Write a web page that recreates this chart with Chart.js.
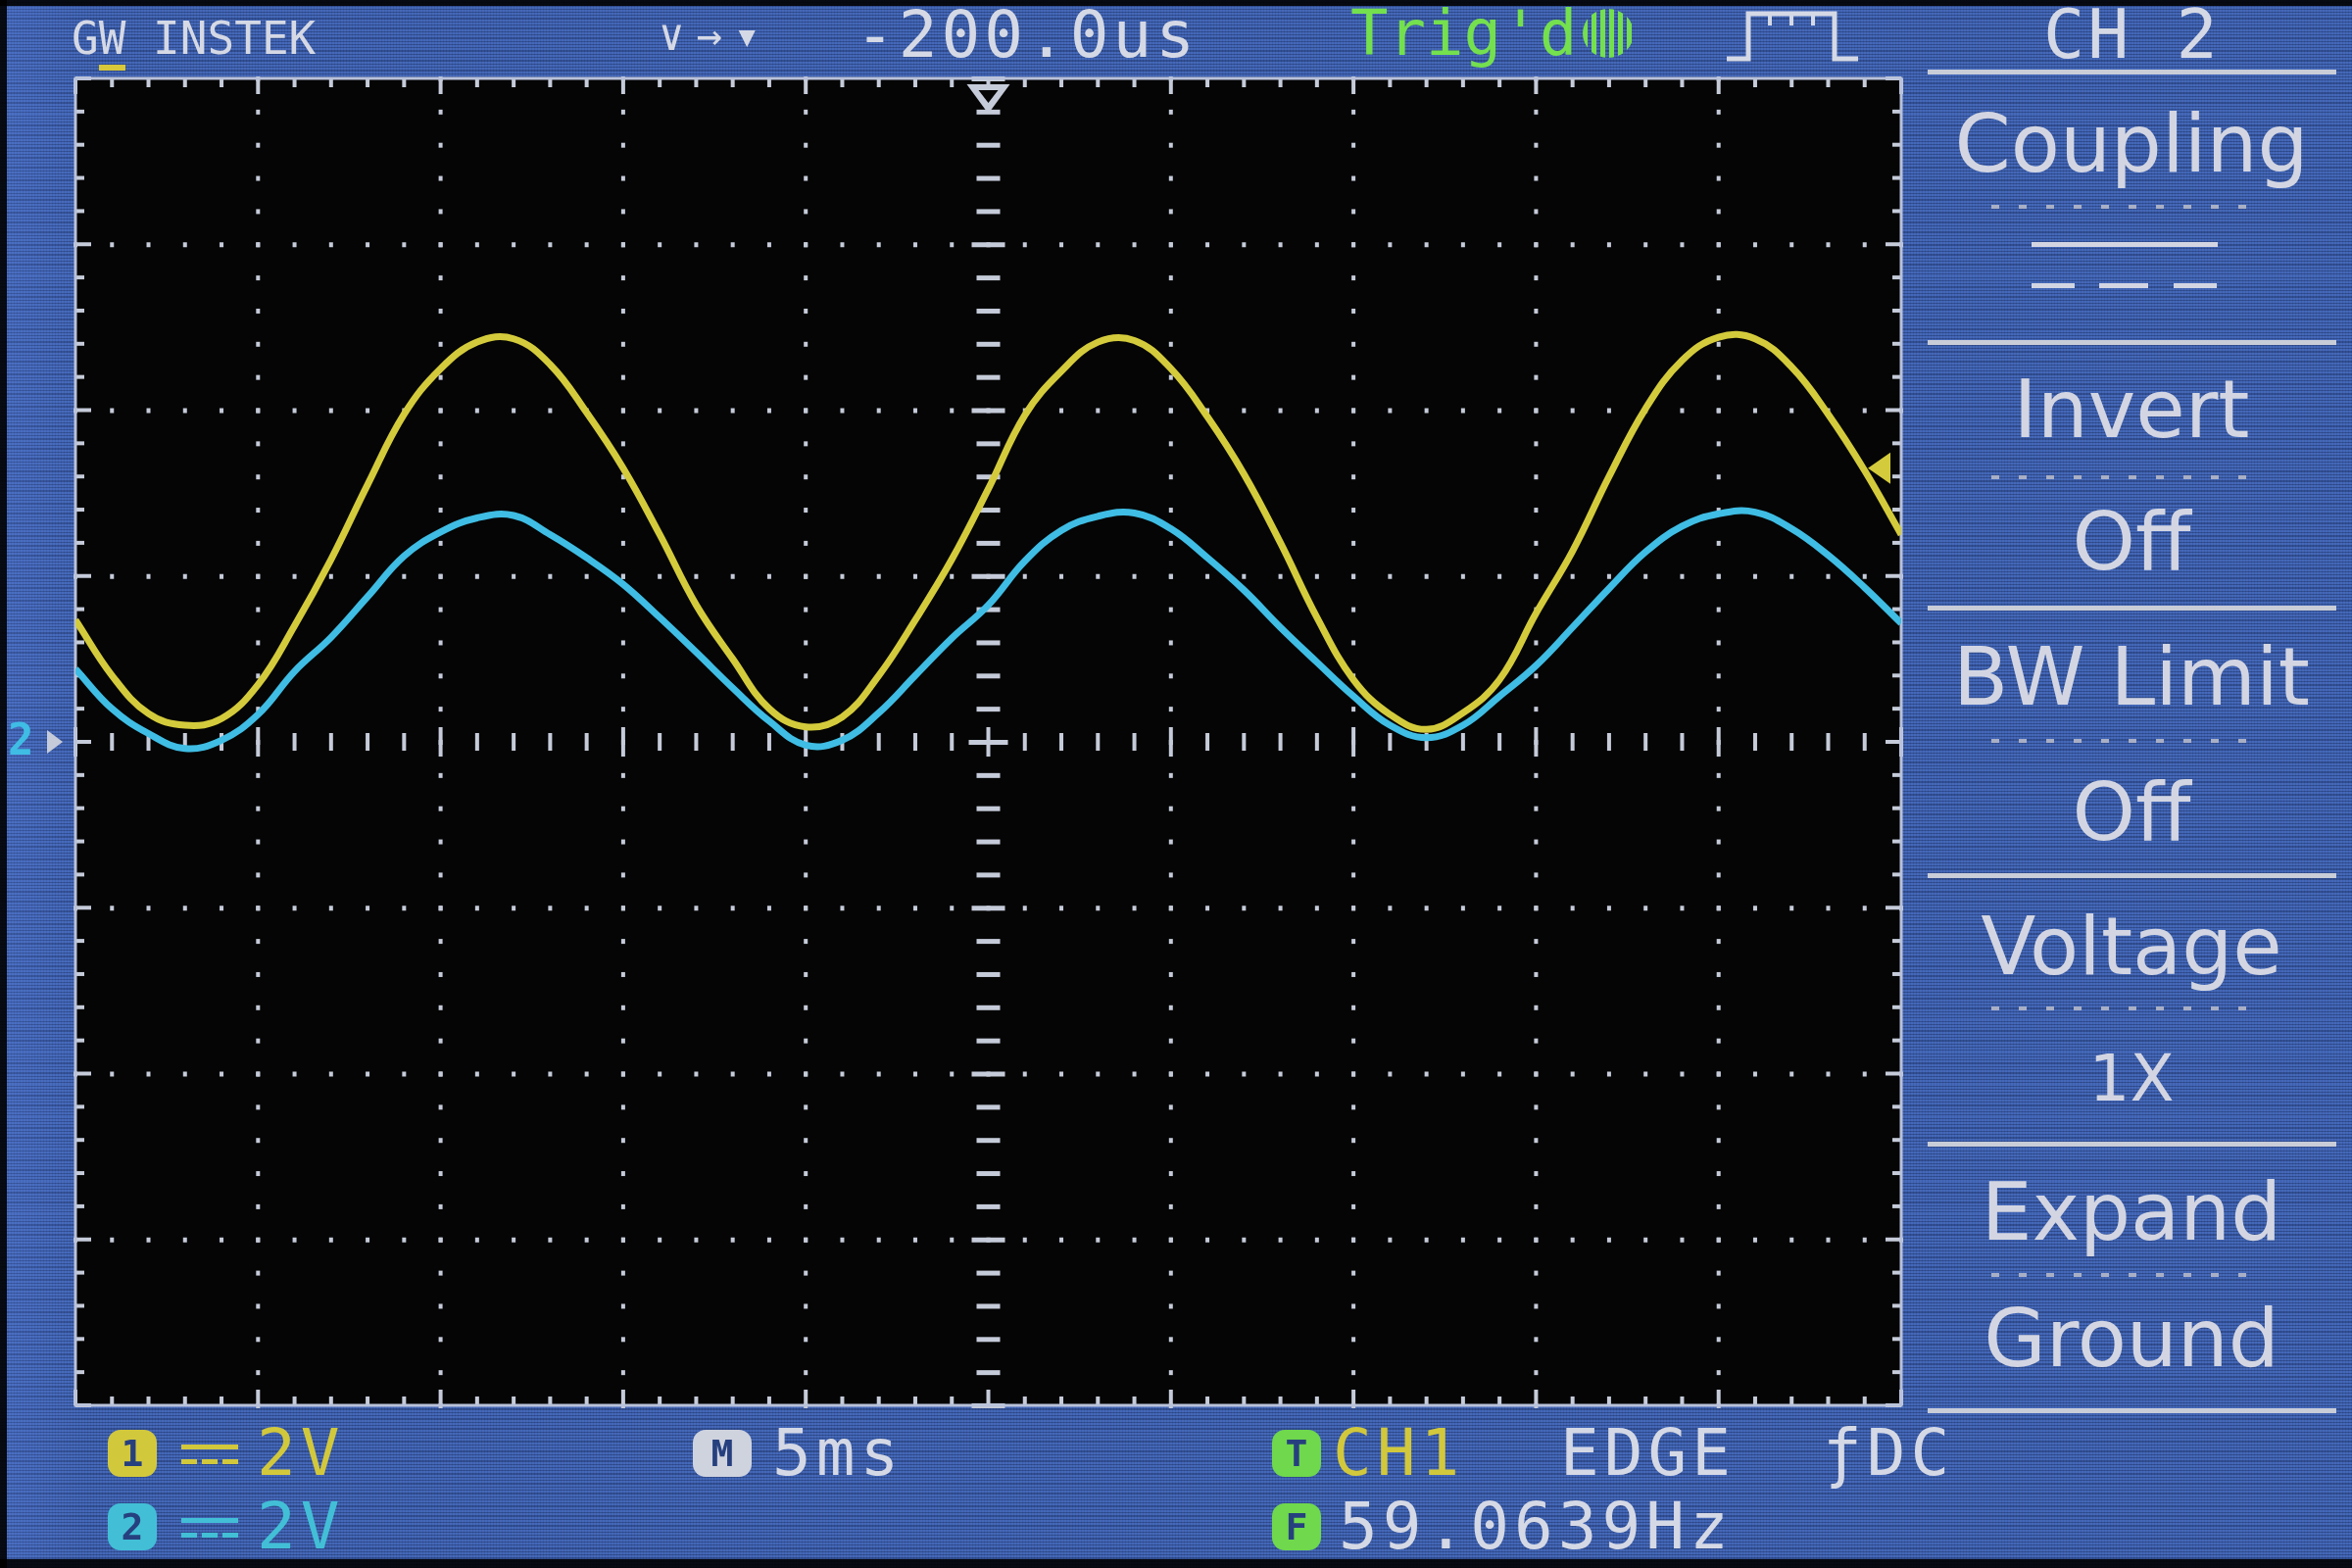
<!DOCTYPE html>
<html>
<head>
<meta charset="utf-8">
<title>GW Instek scope capture</title>
<script src="https://cdn.jsdelivr.net/npm/chart.js@4.4.1/dist/chart.umd.min.js"></script>
<style>
  html, body { margin: 0; padding: 0; background: #0a0a0a; }
  #screen {
    position: absolute; left: 0; top: 0; width: 2400px; height: 1600px; overflow: hidden;
    background:
      linear-gradient(to right, rgba(0,0,0,0.9) 0 7px, rgba(0,0,0,0) 7px),
      linear-gradient(to bottom, rgba(0,0,0,0.9) 0 6px, rgba(0,0,0,0) 6px calc(100% - 9px), rgba(0,0,0,0.9) calc(100% - 9px)),
      linear-gradient(to right, rgba(110,150,255,0.16) 0, rgba(0,0,0,0) 90px),
      repeating-linear-gradient(to right, rgba(255,255,255,0.05) 0 2px, rgba(0,0,0,0) 2px 3px),
      repeating-linear-gradient(to bottom, #3c60b2 0 2px, #294689 2px 3.3px);
  }
  #scope { position: absolute; left: 0; top: 0; }
  .t { position: absolute; white-space: pre; font-family: "DejaVu Sans Mono", monospace; line-height: 1; color: #d5d9e5; }
  .m { position: absolute; left: 1965px; width: 420px; text-align: center; white-space: pre;
       font-family: "DejaVu Sans", sans-serif; font-size: 82px; line-height: 1; color: #d3d6e2; }
  .sep { position: absolute; left: 1967px; width: 417px; height: 5px; background: #c9cdd8; }
  .dot { position: absolute; left: 2032px; width: 262px; height: 4px;
         background: repeating-linear-gradient(to right, #a9afc5 0 8px, rgba(0,0,0,0) 8px 28px); }
  .bar { position: absolute; height: 5px; }
  .ico { position: absolute; width: 50px; height: 48px; border-radius: 13px; text-align: center;
         font-family: "DejaVu Sans Mono", monospace; font-weight: bold; font-size: 38px; line-height: 48px; color: #26407f; }
</style>
</head>
<body>
<div id="screen">
  <canvas id="scope" width="2400" height="1600"></canvas>

  <!-- top status bar -->
  <div class="t" style="left:73px; top:16px; font-size:46px;">G<span style="border-bottom:6px solid #d8c83a;">W</span> INSTEK</div>
  <div class="t" style="left:672px; top:14px; font-size:44px; letter-spacing:12px;">∨→▾</div>
  <div class="t" style="left:873px; top:3px; font-size:66px; letter-spacing:4px;">-200.0us</div>
  <div class="t" style="left:1378px; top:2px; font-size:64px; color:#74e04e;">Trig'd</div>
  <div style="position:absolute; left:1615px; top:9px; width:52px; height:50px; border-radius:50%;
              background:repeating-linear-gradient(to right, #74e04e 0 5px, rgba(0,0,0,0) 5px 9px);"></div>
  <svg style="position:absolute; left:1760px; top:8px;" width="140" height="60">
    <polyline points="2,52 24,52 24,6 112,6 112,52 136,52" fill="none" stroke="#d5d9e5" stroke-width="5"/>
    <line x1="46" y1="6" x2="46" y2="18" stroke="#d5d9e5" stroke-width="4"/>
    <line x1="68" y1="6" x2="68" y2="18" stroke="#d5d9e5" stroke-width="4"/>
    <line x1="90" y1="6" x2="90" y2="18" stroke="#d5d9e5" stroke-width="4"/>
  </svg>
  <div class="t" style="left:2085px; top:0px; font-size:70px; letter-spacing:3px;">CH 2</div>

  <!-- right menu -->
  <div class="sep" style="top:71px;"></div>
  <div class="m" style="top:106px;">Coupling</div>
  <div class="dot" style="top:209px;"></div>
  <div class="bar" style="left:2073px; width:190px; top:247px; background:#d3d6e2;"></div>
  <div class="bar" style="left:2073px; width:44px; top:289px; background:#d3d6e2;"></div>
  <div class="bar" style="left:2142px; width:50px; top:289px; background:#d3d6e2;"></div>
  <div class="bar" style="left:2218px; width:44px; top:289px; background:#d3d6e2;"></div>
  <div class="sep" style="top:347px;"></div>
  <div class="m" style="top:377px;">Invert</div>
  <div class="dot" style="top:485px;"></div>
  <div class="m" style="top:512px;">Off</div>
  <div class="sep" style="top:618px;"></div>
  <div class="m" style="top:650px;">BW Limit</div>
  <div class="dot" style="top:754px;"></div>
  <div class="m" style="top:788px;">Off</div>
  <div class="sep" style="top:891px;"></div>
  <div class="m" style="top:925px;">Voltage</div>
  <div class="dot" style="top:1027px;"></div>
  <div class="m" style="top:1068px; font-size:66px;">1X</div>
  <div class="sep" style="top:1165px;"></div>
  <div class="m" style="top:1196px;">Expand</div>
  <div class="dot" style="top:1299px;"></div>
  <div class="m" style="top:1325px;">Ground</div>
  <div class="sep" style="top:1437px;"></div>

  <!-- bottom status -->
  <div class="ico" style="left:110px; top:1459px; background:#d2c83c;">1</div>
  <div class="bar" style="left:185px; width:58px; top:1474px; background:#d2c83c;"></div>
  <div class="bar" style="left:185px; width:16px; top:1489px; background:#d2c83c;"></div>
  <div class="bar" style="left:206px; width:16px; top:1489px; background:#d2c83c;"></div>
  <div class="bar" style="left:227px; width:16px; top:1489px; background:#d2c83c;"></div>
  <div class="t" style="left:262px; top:1450px; font-size:66px; letter-spacing:5px; color:#d2c83c;">2V</div>

  <div class="ico" style="left:110px; top:1534px; background:#42bfd6;">2</div>
  <div class="bar" style="left:185px; width:58px; top:1549px; background:#42bfd6;"></div>
  <div class="bar" style="left:185px; width:16px; top:1564px; background:#42bfd6;"></div>
  <div class="bar" style="left:206px; width:16px; top:1564px; background:#42bfd6;"></div>
  <div class="bar" style="left:227px; width:16px; top:1564px; background:#42bfd6;"></div>
  <div class="t" style="left:262px; top:1525px; font-size:66px; letter-spacing:5px; color:#42bfd6;">2V</div>

  <div class="ico" style="left:707px; top:1459px; width:60px; background:#cfd3de;">M</div>
  <div class="t" style="left:788px; top:1450px; font-size:66px; letter-spacing:5px;">5ms</div>

  <div class="ico" style="left:1298px; top:1459px; background:#6fd84c;">T</div>
  <div class="t" style="left:1360px; top:1450px; font-size:66px; letter-spacing:5px; color:#d2c83c;">CH1</div>
  <div class="t" style="left:1592px; top:1450px; font-size:66px; letter-spacing:5px;">EDGE</div>
  <div class="t" style="left:1860px; top:1450px; font-size:66px; letter-spacing:5px;">ƒDC</div>

  <div class="ico" style="left:1298px; top:1534px; background:#6fd84c;">F</div>
  <div class="t" style="left:1366px; top:1525px; font-size:66px; letter-spacing:5px;">59.0639Hz</div>
</div>

<script>
// time axis in ms (5 ms/div, 10 divisions), volts (2 V/div, 8 divisions)
const timeMs = [-25, -24, -23, -22, -21, -20, -19, -18, -17, -16, -15, -14, -13, -12, -11, -10,
  -9, -8, -7, -6, -5, -4, -3, -2, -1, 0, 1, 2, 3, 4, 5, 6, 7, 8, 9, 10,
  11, 12, 13, 14, 15, 16, 17, 18, 19, 20, 21, 22, 23, 24, 25];

const ch1Volts = [1.47, 0.80, 0.34, 0.20, 0.28, 0.69, 1.40, 2.20, 3.10, 3.95, 4.50,
  4.82, 4.86, 4.55, 3.97, 3.30, 2.50, 1.65, 1.00, 0.40, 0.18,
  0.30, 0.80, 1.47, 2.20, 3.05, 3.94, 4.47, 4.82, 4.84, 4.50,
  3.92, 3.23, 2.40, 1.50, 0.75, 0.33, 0.15, 0.35, 0.75, 1.55,
  2.30, 3.20, 4.02, 4.60, 4.88, 4.86, 4.52, 3.95, 3.27, 2.50];

const ch2Volts = [0.88, 0.40, 0.10, -0.08, 0.02, 0.33, 0.85, 1.26, 1.75, 2.24, 2.53,
  2.70, 2.73, 2.50, 2.22, 1.90, 1.50, 1.08, 0.65, 0.25, -0.04,
  0.02, 0.35, 0.80, 1.25, 1.65, 2.18, 2.55, 2.72, 2.76, 2.57,
  2.22, 1.83, 1.38, 0.96, 0.55, 0.20, 0.05, 0.20, 0.55, 0.92,
  1.38, 1.85, 2.29, 2.60, 2.75, 2.77, 2.57, 2.25, 1.86, 1.43];

const timeDivs = [-25, -20, -15, -10, -5, 0, 5, 10, 15, 20, 25];
const voltDivs = [-8, -6, -4, -2, 0, 2, 4, 6, 8];
const trigLevel = 3.3;

const CH1_COLOR = "#d4cb3c";
const CH2_COLOR = "#3fbde4";
const GRID_COLOR = "#c5cbd9";

const graticule = {
  id: "graticule",
  beforeDatasetsDraw(chart) {
    const { ctx, chartArea: a, scales: { x, y } } = chart;
    const subT = [];
    for (let t = timeDivs[0]; t <= timeDivs[timeDivs.length - 1]; t += 1) subT.push(t);
    const subV = [];
    for (let v = voltDivs[0]; v <= voltDivs[voltDivs.length - 1] + 0.001; v += 0.4) subV.push(v);
    const isMajorT = (t) => timeDivs.includes(t);
    const isMajorV = (v) => voltDivs.some((d) => Math.abs(d - v) < 0.01);

    ctx.save();
    ctx.fillStyle = "#050505";
    ctx.fillRect(a.left, a.top, a.right - a.left, a.bottom - a.top);
    ctx.fillStyle = GRID_COLOR;

    // dotted vertical division lines
    timeDivs.slice(1, -1).forEach((t) => {
      if (t === 0) return;
      const px = x.getPixelForValue(t);
      subV.forEach((v) => ctx.fillRect(px - 2, y.getPixelForValue(v) - 2, 4, 5));
    });
    // dotted horizontal division lines
    voltDivs.slice(1, -1).forEach((v) => {
      if (v === 0) return;
      const py = y.getPixelForValue(v);
      subT.forEach((t) => ctx.fillRect(x.getPixelForValue(t) - 2, py - 2, 4, 5));
    });

    // centre cross with sub-division ticks
    const cx = x.getPixelForValue(0);
    const cy = y.getPixelForValue(0);
    subV.forEach((v) => {
      const w = isMajorV(v) ? 34 : 24;
      ctx.fillRect(cx - w / 2, y.getPixelForValue(v) - 2, w, 5);
    });
    subT.forEach((t) => {
      const h = isMajorT(t) ? 30 : 18;
      ctx.fillRect(x.getPixelForValue(t) - 2, cy - h / 2, 4, h);
    });
    ctx.fillRect(cx - 20, cy - 2, 40, 5);

    // border ticks
    subT.forEach((t) => {
      const px = x.getPixelForValue(t);
      const h = isMajorT(t) ? 16 : 9;
      ctx.fillRect(px - 2, a.top, 4, h);
      ctx.fillRect(px - 2, a.bottom - h, 4, h);
    });
    subV.forEach((v) => {
      const py = y.getPixelForValue(v);
      const w = isMajorV(v) ? 16 : 9;
      ctx.fillRect(a.left, py - 2, w, 4);
      ctx.fillRect(a.right - w, py - 2, w, 4);
    });

    ctx.strokeStyle = "#b9c2da";
    ctx.lineWidth = 3;
    ctx.strokeRect(a.left, a.top, a.right - a.left, a.bottom - a.top);
    ctx.restore();
  },
  afterDatasetsDraw(chart) {
    const { ctx, chartArea: a, scales: { x, y } } = chart;
    ctx.save();
    // trigger position marker
    const tx = x.getPixelForValue(0);
    ctx.fillStyle = GRID_COLOR;
    ctx.beginPath();
    ctx.moveTo(tx - 22, a.top + 6);
    ctx.lineTo(tx + 22, a.top + 6);
    ctx.lineTo(tx, a.top + 36);
    ctx.closePath();
    ctx.fill();
    ctx.fillStyle = "#050505";
    ctx.beginPath();
    ctx.moveTo(tx - 10, a.top + 12);
    ctx.lineTo(tx + 10, a.top + 12);
    ctx.lineTo(tx, a.top + 25);
    ctx.closePath();
    ctx.fill();

    // trigger level marker
    const ty = y.getPixelForValue(trigLevel);
    ctx.fillStyle = CH1_COLOR;
    ctx.beginPath();
    ctx.moveTo(a.right - 34, ty);
    ctx.lineTo(a.right - 11, ty - 16);
    ctx.lineTo(a.right - 11, ty + 16);
    ctx.closePath();
    ctx.fill();

    // CH2 ground marker
    const gy = y.getPixelForValue(0);
    ctx.fillStyle = CH2_COLOR;
    ctx.font = "bold 44px 'DejaVu Sans Mono'";
    ctx.textBaseline = "middle";
    ctx.fillText("2", 8, gy + 2);
    ctx.fillStyle = GRID_COLOR;
    ctx.beginPath();
    ctx.moveTo(48, gy - 12);
    ctx.lineTo(64, gy);
    ctx.lineTo(48, gy + 12);
    ctx.closePath();
    ctx.fill();
    ctx.restore();
  }
};

function toPoints(values) {
  return timeMs.map((t, i) => ({ x: t, y: values[i] }));
}

const ctx = document.getElementById("scope");

new Chart(ctx, {
  type: "line",
  data: {
    datasets: [
      {
        label: "CH2",
        data: toPoints(ch2Volts),
        borderColor: CH2_COLOR,
        borderWidth: 7,
        pointRadius: 0,
        tension: 0.4
      },
      {
        label: "CH1",
        data: toPoints(ch1Volts),
        borderColor: CH1_COLOR,
        borderWidth: 7,
        pointRadius: 0,
        tension: 0.4
      }
    ]
  },
  options: {
    responsive: false,
    animation: false,
    devicePixelRatio: 1,
    layout: { padding: { left: 77, top: 80, right: 460, bottom: 166 } },
    plugins: {
      legend: { display: false },
      tooltip: { enabled: false }
    },
    scales: {
      x: { type: "linear", min: -25, max: 25, display: false },
      y: { type: "linear", min: -8, max: 8, display: false }
    }
  },
  plugins: [graticule]
});
</script>
</body>
</html>
